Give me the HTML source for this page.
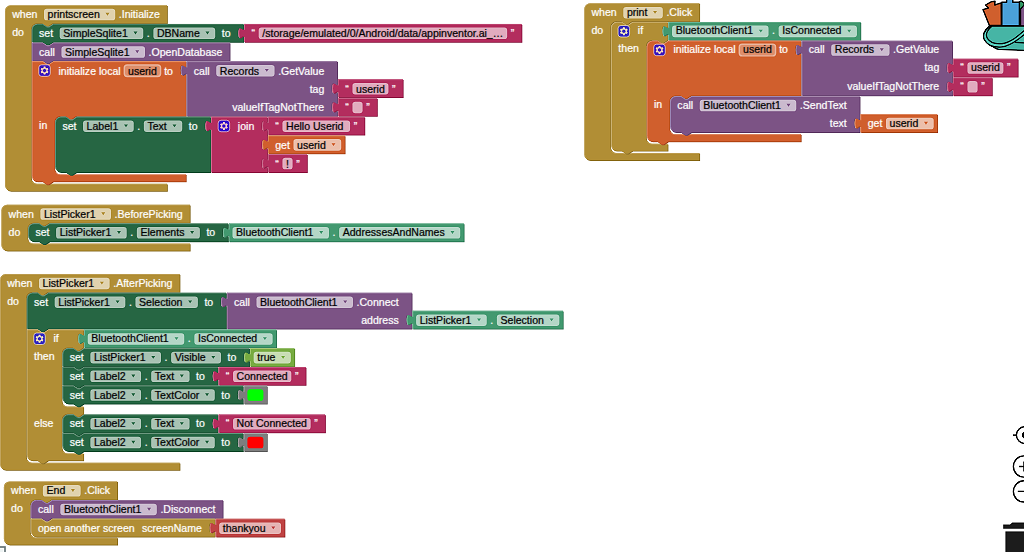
<!DOCTYPE html>
<html lang="en"><head><meta charset="utf-8"><title>Blocks</title>
<style>
html,body{margin:0;padding:0;background:#fff;overflow:hidden}
svg{display:block}
text{font-family:"Liberation Sans",Arial,sans-serif;font-size:14.6667px;fill:#fff;white-space:pre;stroke:#fff;stroke-width:0.3}
text.k{fill:#000;stroke:#000}
rect.e{fill:#fff;fill-opacity:.6}
rect.p{fill:rgb(222,143,108);stroke:rgb(231,175,150);stroke-width:2}
.hl{fill:none;stroke-linecap:round;stroke-width:1}
.ic{fill:#00f;stroke:#fff;stroke-width:1}
</style></head><body>
<svg width="1024" height="552" viewBox="0 0 1024 552">
<defs><filter id="sh" x="0" y="0" width="1024" height="552" filterUnits="userSpaceOnUse" color-interpolation-filters="sRGB"><feConvolveMatrix order="3" kernelMatrix="0 -0.15 0 -0.15 1.6 -0.15 0 -0.15 0" edgeMode="duplicate" preserveAlpha="true"/></filter></defs>
<g filter="url(#sh)">
<rect width="1024" height="552" fill="#fff"/>
<g transform="translate(5,5.2) scale(0.72)">
<g transform="translate(0,0)">
<path d="m 0,8 A 8,8 0 0,1 8,0 H 225.13 v 25 H 66.31 l -6,4 -3,0 -6,-4 h -7 a 8,8 0 0,0 -8,8 v 207 a 8,8 0 0,0 8,8 H 225.13 v 10 H 8 a 8,8 0 0,1 -8,-8 z" fill="#8e722a" transform="translate(1,1)"/>
<path d="m 0,8 A 8,8 0 0,1 8,0 H 225.13 v 25 H 66.31 l -6,4 -3,0 -6,-4 h -7 a 8,8 0 0,0 -8,8 v 207 a 8,8 0 0,0 8,8 H 225.13 v 10 H 8 a 8,8 0 0,1 -8,-8 z" fill="#B18E35"/>
<path class="hl" d="m 0.5,7.5 A 7.5,7.5 0 0,1 8,0.5 H 224.63 M 224.63,0.5 M 224.63,25.5 M 38.3,246.01 a 8.5,8.5 0 0,0 6.01041,2.48959 H 224.63 M 2.7,255.3 A 7.5,7.5 0 0,1 0.5,250 V 8" stroke="#c8b072"/>
<rect class="e" x="54.14" y="5" width="98.93" height="16" rx="4" ry="4"/>
<path d="M139.62,10.6 h5.4 l-2.7,4 z" fill="#B18E35"/>
</g>
<g transform="translate(37.31,26)">
<path d="m 0,8 A 8,8 0 0,1 8,0 H 15 l 6,4 3,0 6,-4 H 293.95 v 5 c 0,10 -8,-8 -8,7.5 s 8,-2.5 8,7.5 v 5 H 29.5 l -6,4 -3,0 -6,-4 H 0 z" fill="#1e5236" transform="translate(1,1)"/>
<path d="m 0,8 A 8,8 0 0,1 8,0 H 15 l 6,4 3,0 6,-4 H 293.95 v 5 c 0,10 -8,-8 -8,7.5 s 8,-2.5 8,7.5 v 5 H 29.5 l -6,4 -3,0 -6,-4 H 0 z" fill="#266643"/>
<path class="hl" d="m 0.5,7.5 A 7.5,7.5 0 0,1 8,0.5 H 15 l 6,4 3,0 6,-4 H 293.45 M 293.45,0.5 M 288.95,19.3 l 3.68,-2.1 M 0.5,24.5 V 8" stroke="#67947b"/>
<rect class="e" x="38.64" y="5" width="116.05" height="16" rx="4" ry="4"/>
<path d="M141.24,10.6 h5.4 l-2.7,4 z" fill="#266643"/>
<rect class="e" x="168.77" y="5" width="85.87" height="16" rx="4" ry="4"/>
<path d="M241.19,10.6 h5.4 l-2.7,4 z" fill="#266643"/>
</g>
<g transform="translate(332.26,26)">
<path d="m 0,0 H 385.28 v 25 H 0 V 20 c 0,-10 -8,8 -8,-7.5 s 8,2.5 8,-7.5 z" fill="#8f244b" transform="translate(1,1)"/>
<path d="m 0,0 H 385.28 v 25 H 0 V 20 c 0,-10 -8,8 -8,-7.5 s 8,2.5 8,-7.5 z" fill="#B32D5E"/>
<path class="hl" d="m 0.5,0.5 H 384.78 M 384.78,0.5 M 0.5,24.5 V 18.5 m -7.36,-0.5 q -1.52,-5.5 0,-11 m 7.36,1 V 0.5 H 1" stroke="#ca6c8e"/>
<rect class="e" x="20.08" y="5" width="345.12" height="16" rx="4" ry="4"/>
</g>
<g transform="translate(37.31,52)">
<path d="m 0,0 H 15 l 6,4 3,0 6,-4 H 274.87 v 25 H 29.5 l -6,4 -3,0 -6,-4 H 0 z" fill="#63426a" transform="translate(1,1)"/>
<path d="m 0,0 H 15 l 6,4 3,0 6,-4 H 274.87 v 25 H 29.5 l -6,4 -3,0 -6,-4 H 0 z" fill="#7C5385"/>
<path class="hl" d="m 0.5,0.5 H 15 l 6,4 3,0 6,-4 H 274.37 M 274.37,0.5 M 0.5,24.5 V 0.5" stroke="#a387aa"/>
<rect class="e" x="41.08" y="5" width="116.05" height="16" rx="4" ry="4"/>
<path d="M143.68,10.6 h5.4 l-2.7,4 z" fill="#7C5385"/>
</g>
<g transform="translate(37.31,78)">
<path d="m 0,0 H 15 l 6,4 3,0 6,-4 H 213.99 v 5 c 0,10 -8,-8 -8,7.5 s 8,-2.5 8,7.5 v 56 H 61.42 l -6,4 -3,0 -6,-4 h -7 a 8,8 0 0,0 -8,8 v 65 a 8,8 0 0,0 8,8 H 213.99 v 10 H 29.5 l -6,4 -3,0 -6,-4 H 8 a 8,8 0 0,1 -8,-8 z" fill="#a64c24" transform="translate(1,1)"/>
<path d="m 0,0 H 15 l 6,4 3,0 6,-4 H 213.99 v 5 c 0,10 -8,-8 -8,7.5 s 8,-2.5 8,7.5 v 56 H 61.42 l -6,4 -3,0 -6,-4 h -7 a 8,8 0 0,0 -8,8 v 65 a 8,8 0 0,0 8,8 H 213.99 v 10 H 29.5 l -6,4 -3,0 -6,-4 H 8 a 8,8 0 0,1 -8,-8 z" fill="#D05F2D"/>
<path class="hl" d="m 0.5,0.5 H 15 l 6,4 3,0 6,-4 H 213.49 M 213.49,0.5 M 208.99,19.3 l 3.68,-2.1 M 213.49,76.5 M 33.41,155.01 a 8.5,8.5 0 0,0 6.01041,2.48959 H 213.49 M 2.7,164.3 A 7.5,7.5 0 0,1 0.5,159 V 0.5" stroke="#de8f6c"/>
<g transform="translate(9.6,4.8)" opacity=".68"><rect class="ic" width="16" height="16" rx="4" ry="4"/><g transform="translate(8,8) scale(1.08) translate(-8,-8)"><path fill="#fff" d="m4.203,7.296 0,1.368 -0.92,0.677 -0.11,0.41 0.9,1.559 0.41,0.11 1.043,-0.457 1.187,0.683 0.127,1.134 0.3,0.3 1.8,0 0.3,-0.299 0.127,-1.138 1.185,-0.682 1.046,0.458 0.409,-0.11 0.9,-1.559 -0.11,-0.41 -0.92,-0.677 0,-1.366 0.92,-0.677 0.11,-0.41 -0.9,-1.559 -0.409,-0.109 -1.046,0.458 -1.185,-0.682 -0.127,-1.138 -0.3,-0.299 -1.8,0 -0.3,0.3 -0.126,1.135 -1.187,0.682 -1.043,-0.457 -0.41,0.11 -0.899,1.559 0.108,0.409z"/><circle class="ic" r="2.7" cx="8" cy="8"/></g></g>
<rect class="p" x="128.41" y="5" width="50.35" height="16" rx="4" ry="4"/>
</g>
<g transform="translate(252.3,78)">
<path d="m 0,0 H 209.21 v 25 v 5 c 0,10 -8,-8 -8,7.5 s 8,-2.5 8,7.5 v 6 v 5 c 0,10 -8,-8 -8,7.5 s 8,-2.5 8,7.5 v 5 H 0 V 20 c 0,-10 -8,8 -8,-7.5 s 8,2.5 8,-7.5 z" fill="#63426a" transform="translate(1,1)"/>
<path d="m 0,0 H 209.21 v 25 v 5 c 0,10 -8,-8 -8,7.5 s 8,-2.5 8,7.5 v 6 v 5 c 0,10 -8,-8 -8,7.5 s 8,-2.5 8,7.5 v 5 H 0 V 20 c 0,-10 -8,8 -8,-7.5 s 8,2.5 8,-7.5 z" fill="#7C5385"/>
<path class="hl" d="m 0.5,0.5 H 208.71 M 208.71,0.5 M 208.71,25.5 M 204.21,44.3 l 3.68,-2.1 M 208.71,51.5 M 204.21,70.3 l 3.68,-2.1 M 0.5,75.5 V 18.5 m -7.36,-0.5 q -1.52,-5.5 0,-11 m 7.36,1 V 0.5 H 1" stroke="#a387aa"/>
<rect class="e" x="41.08" y="5" width="80.99" height="16" rx="4" ry="4"/>
<path d="M108.62,10.6 h5.4 l-2.7,4 z" fill="#7C5385"/>
</g>
<g transform="translate(462.51,103)">
<path d="m 0,0 H 90.12 v 25 H 0 V 20 c 0,-10 -8,8 -8,-7.5 s 8,2.5 8,-7.5 z" fill="#8f244b" transform="translate(1,1)"/>
<path d="m 0,0 H 90.12 v 25 H 0 V 20 c 0,-10 -8,8 -8,-7.5 s 8,2.5 8,-7.5 z" fill="#B32D5E"/>
<path class="hl" d="m 0.5,0.5 H 89.62 M 89.62,0.5 M 0.5,24.5 V 18.5 m -7.36,-0.5 q -1.52,-5.5 0,-11 m 7.36,1 V 0.5 H 1" stroke="#ca6c8e"/>
<rect class="e" x="20.08" y="5" width="49.95" height="16" rx="4" ry="4"/>
</g>
<g transform="translate(462.51,129)">
<path d="m 0,0 H 54.24 v 25 H 0 V 20 c 0,-10 -8,8 -8,-7.5 s 8,2.5 8,-7.5 z" fill="#8f244b" transform="translate(1,1)"/>
<path d="m 0,0 H 54.24 v 25 H 0 V 20 c 0,-10 -8,8 -8,-7.5 s 8,2.5 8,-7.5 z" fill="#B32D5E"/>
<path class="hl" d="m 0.5,0.5 H 53.74 M 53.74,0.5 M 0.5,24.5 V 18.5 m -7.36,-0.5 q -1.52,-5.5 0,-11 m 7.36,1 V 0.5 H 1" stroke="#ca6c8e"/>
<rect class="e" x="20.08" y="5" width="14.07" height="16" rx="4" ry="4"/>
</g>
<g transform="translate(69.73,155)">
<path d="m 0,8 A 8,8 0 0,1 8,0 H 15 l 6,4 3,0 6,-4 H 215.71 v 5 c 0,10 -8,-8 -8,7.5 s 8,-2.5 8,7.5 v 57 H 29.5 l -6,4 -3,0 -6,-4 H 8 a 8,8 0 0,1 -8,-8 z" fill="#1e5236" transform="translate(1,1)"/>
<path d="m 0,8 A 8,8 0 0,1 8,0 H 15 l 6,4 3,0 6,-4 H 215.71 v 5 c 0,10 -8,-8 -8,7.5 s 8,-2.5 8,7.5 v 57 H 29.5 l -6,4 -3,0 -6,-4 H 8 a 8,8 0 0,1 -8,-8 z" fill="#266643"/>
<path class="hl" d="m 0.5,7.5 A 7.5,7.5 0 0,1 8,0.5 H 15 l 6,4 3,0 6,-4 H 215.21 M 215.21,0.5 M 210.71,19.3 l 3.68,-2.1 M 2.7,74.3 A 7.5,7.5 0 0,1 0.5,69 V 8" stroke="#67947b"/>
<rect class="e" x="38.64" y="5" width="70.42" height="16" rx="4" ry="4"/>
<path d="M95.61,10.6 h5.4 l-2.7,4 z" fill="#266643"/>
<rect class="e" x="123.13" y="5" width="53.27" height="16" rx="4" ry="4"/>
<path d="M162.96,10.6 h5.4 l-2.7,4 z" fill="#266643"/>
</g>
<g transform="translate(286.44,155)">
<path d="m 0,0 H 77.83 v 5 c 0,10 -8,-8 -8,7.5 s 8,-2.5 8,7.5 v 6 v 5 c 0,10 -8,-8 -8,7.5 s 8,-2.5 8,7.5 v 6 v 5 c 0,10 -8,-8 -8,7.5 s 8,-2.5 8,7.5 v 5 H 0 V 20 c 0,-10 -8,8 -8,-7.5 s 8,2.5 8,-7.5 z" fill="#8f244b" transform="translate(1,1)"/>
<path d="m 0,0 H 77.83 v 5 c 0,10 -8,-8 -8,7.5 s 8,-2.5 8,7.5 v 6 v 5 c 0,10 -8,-8 -8,7.5 s 8,-2.5 8,7.5 v 6 v 5 c 0,10 -8,-8 -8,7.5 s 8,-2.5 8,7.5 v 5 H 0 V 20 c 0,-10 -8,8 -8,-7.5 s 8,2.5 8,-7.5 z" fill="#B32D5E"/>
<path class="hl" d="m 0.5,0.5 H 77.33 M 77.33,0.5 M 72.83,19.3 l 3.68,-2.1 M 77.33,26.5 M 72.83,45.3 l 3.68,-2.1 M 77.33,52.5 M 72.83,71.3 l 3.68,-2.1 M 0.5,76.5 V 18.5 m -7.36,-0.5 q -1.52,-5.5 0,-11 m 7.36,1 V 0.5 H 1" stroke="#ca6c8e"/>
<g transform="translate(9.6,4.8)" opacity=".68"><rect class="ic" width="16" height="16" rx="4" ry="4"/><g transform="translate(8,8) scale(1.08) translate(-8,-8)"><path fill="#fff" d="m4.203,7.296 0,1.368 -0.92,0.677 -0.11,0.41 0.9,1.559 0.41,0.11 1.043,-0.457 1.187,0.683 0.127,1.134 0.3,0.3 1.8,0 0.3,-0.299 0.127,-1.138 1.185,-0.682 1.046,0.458 0.409,-0.11 0.9,-1.559 -0.11,-0.41 -0.92,-0.677 0,-1.366 0.92,-0.677 0.11,-0.41 -0.9,-1.559 -0.409,-0.109 -1.046,0.458 -1.185,-0.682 -0.127,-1.138 -0.3,-0.299 -1.8,0 -0.3,0.3 -0.126,1.135 -1.187,0.682 -1.043,-0.457 -0.41,0.11 -0.899,1.559 0.108,0.409z"/><circle class="ic" r="2.7" cx="8" cy="8"/></g></g>
</g>
<g transform="translate(365.27,155)">
<path d="m 0,0 H 134.12 v 25 H 0 V 20 c 0,-10 -8,8 -8,-7.5 s 8,2.5 8,-7.5 z" fill="#8f244b" transform="translate(1,1)"/>
<path d="m 0,0 H 134.12 v 25 H 0 V 20 c 0,-10 -8,8 -8,-7.5 s 8,2.5 8,-7.5 z" fill="#B32D5E"/>
<path class="hl" d="m 0.5,0.5 H 133.62 M 133.62,0.5 M 0.5,24.5 V 18.5 m -7.36,-0.5 q -1.52,-5.5 0,-11 m 7.36,1 V 0.5 H 1" stroke="#ca6c8e"/>
<rect class="e" x="20.08" y="5" width="93.95" height="16" rx="4" ry="4"/>
</g>
<g transform="translate(365.27,181)">
<path d="m 0,0 H 106.71 v 25 H 0 V 20 c 0,-10 -8,8 -8,-7.5 s 8,2.5 8,-7.5 z" fill="#a64c24" transform="translate(1,1)"/>
<path d="m 0,0 H 106.71 v 25 H 0 V 20 c 0,-10 -8,8 -8,-7.5 s 8,2.5 8,-7.5 z" fill="#D05F2D"/>
<path class="hl" d="m 0.5,0.5 H 106.21 M 106.21,0.5 M 0.5,24.5 V 18.5 m -7.36,-0.5 q -1.52,-5.5 0,-11 m 7.36,1 V 0.5 H 1" stroke="#de8f6c"/>
<rect class="e" x="35.39" y="5" width="66.32" height="16" rx="4" ry="4"/>
<path d="M88.26,10.6 h5.4 l-2.7,4 z" fill="#D05F2D"/>
</g>
<g transform="translate(365.27,207)">
<path d="m 0,0 H 54.24 v 25 H 0 V 20 c 0,-10 -8,8 -8,-7.5 s 8,2.5 8,-7.5 z" fill="#8f244b" transform="translate(1,1)"/>
<path d="m 0,0 H 54.24 v 25 H 0 V 20 c 0,-10 -8,8 -8,-7.5 s 8,2.5 8,-7.5 z" fill="#B32D5E"/>
<path class="hl" d="m 0.5,0.5 H 53.74 M 53.74,0.5 M 0.5,24.5 V 18.5 m -7.36,-0.5 q -1.52,-5.5 0,-11 m 7.36,1 V 0.5 H 1" stroke="#ca6c8e"/>
<rect class="e" x="20.08" y="5" width="14.07" height="16" rx="4" ry="4"/>
</g>
</g>
<g transform="translate(1.4,204.7) scale(0.72)">
<g transform="translate(0,0)">
<path d="m 0,8 A 8,8 0 0,1 8,0 H 261.81 v 25 H 66.31 l -6,4 -3,0 -6,-4 h -7 a 8,8 0 0,0 -8,8 v 13 a 8,8 0 0,0 8,8 H 261.81 v 10 H 8 a 8,8 0 0,1 -8,-8 z" fill="#8e722a" transform="translate(1,1)"/>
<path d="m 0,8 A 8,8 0 0,1 8,0 H 261.81 v 25 H 66.31 l -6,4 -3,0 -6,-4 h -7 a 8,8 0 0,0 -8,8 v 13 a 8,8 0 0,0 8,8 H 261.81 v 10 H 8 a 8,8 0 0,1 -8,-8 z" fill="#B18E35"/>
<path class="hl" d="m 0.5,7.5 A 7.5,7.5 0 0,1 8,0.5 H 261.31 M 261.31,0.5 M 261.31,25.5 M 38.3,52.01 a 8.5,8.5 0 0,0 6.01041,2.48959 H 261.31 M 2.7,61.3 A 7.5,7.5 0 0,1 0.5,56 V 8" stroke="#c8b072"/>
<rect class="e" x="54.14" y="5" width="98.1" height="16" rx="4" ry="4"/>
<path d="M138.79,10.6 h5.4 l-2.7,4 z" fill="#B18E35"/>
</g>
<g transform="translate(37.31,26)">
<path d="m 0,8 A 8,8 0 0,1 8,0 H 15 l 6,4 3,0 6,-4 H 277.64 v 5 c 0,10 -8,-8 -8,7.5 s 8,-2.5 8,7.5 v 5 H 29.5 l -6,4 -3,0 -6,-4 H 8 a 8,8 0 0,1 -8,-8 z" fill="#1e5236" transform="translate(1,1)"/>
<path d="m 0,8 A 8,8 0 0,1 8,0 H 15 l 6,4 3,0 6,-4 H 277.64 v 5 c 0,10 -8,-8 -8,7.5 s 8,-2.5 8,7.5 v 5 H 29.5 l -6,4 -3,0 -6,-4 H 8 a 8,8 0 0,1 -8,-8 z" fill="#266643"/>
<path class="hl" d="m 0.5,7.5 A 7.5,7.5 0 0,1 8,0.5 H 15 l 6,4 3,0 6,-4 H 277.14 M 277.14,0.5 M 272.64,19.3 l 3.68,-2.1 M 2.7,22.3 A 7.5,7.5 0 0,1 0.5,17 V 8" stroke="#67947b"/>
<rect class="e" x="38.64" y="5" width="98.1" height="16" rx="4" ry="4"/>
<path d="M123.29,10.6 h5.4 l-2.7,4 z" fill="#266643"/>
<rect class="e" x="150.82" y="5" width="87.51" height="16" rx="4" ry="4"/>
<path d="M224.88,10.6 h5.4 l-2.7,4 z" fill="#266643"/>
</g>
<g transform="translate(315.95,26)">
<path d="m 0,0 H 326.3 v 25 H 0 V 20 c 0,-10 -8,8 -8,-7.5 s 8,2.5 8,-7.5 z" fill="#367a5a" transform="translate(1,1)"/>
<path d="m 0,0 H 326.3 v 25 H 0 V 20 c 0,-10 -8,8 -8,-7.5 s 8,2.5 8,-7.5 z" fill="#439970"/>
<path class="hl" d="m 0.5,0.5 H 325.8 M 325.8,0.5 M 0.5,24.5 V 18.5 m -7.36,-0.5 q -1.52,-5.5 0,-11 m 7.36,1 V 0.5 H 1" stroke="#7bb89b"/>
<rect class="e" x="5" y="5" width="134.01" height="16" rx="4" ry="4"/>
<path d="M125.56,10.6 h5.4 l-2.7,4 z" fill="#439970"/>
<rect class="e" x="153.08" y="5" width="168.22" height="16" rx="4" ry="4"/>
<path d="M307.85,10.6 h5.4 l-2.7,4 z" fill="#439970"/>
</g>
</g>
<g transform="translate(0,274.1) scale(0.72)">
<g transform="translate(0,0)">
<path d="m 0,8 A 8,8 0 0,1 8,0 H 249.57 v 25 H 66.31 l -6,4 -3,0 -6,-4 h -7 a 8,8 0 0,0 -8,8 v 221 a 8,8 0 0,0 8,8 H 249.57 v 10 H 8 a 8,8 0 0,1 -8,-8 z" fill="#8e722a" transform="translate(1,1)"/>
<path d="m 0,8 A 8,8 0 0,1 8,0 H 249.57 v 25 H 66.31 l -6,4 -3,0 -6,-4 h -7 a 8,8 0 0,0 -8,8 v 221 a 8,8 0 0,0 8,8 H 249.57 v 10 H 8 a 8,8 0 0,1 -8,-8 z" fill="#B18E35"/>
<path class="hl" d="m 0.5,7.5 A 7.5,7.5 0 0,1 8,0.5 H 249.07 M 249.07,0.5 M 249.07,25.5 M 38.3,260.01 a 8.5,8.5 0 0,0 6.01041,2.48959 H 249.07 M 2.7,269.3 A 7.5,7.5 0 0,1 0.5,264 V 8" stroke="#c8b072"/>
<rect class="e" x="54.14" y="5" width="98.1" height="16" rx="4" ry="4"/>
<path d="M138.79,10.6 h5.4 l-2.7,4 z" fill="#B18E35"/>
</g>
<g transform="translate(37.31,26)">
<path d="m 0,8 A 8,8 0 0,1 8,0 H 15 l 6,4 3,0 6,-4 H 276.84 v 5 c 0,10 -8,-8 -8,7.5 s 8,-2.5 8,7.5 v 30 H 29.5 l -6,4 -3,0 -6,-4 H 0 z" fill="#1e5236" transform="translate(1,1)"/>
<path d="m 0,8 A 8,8 0 0,1 8,0 H 15 l 6,4 3,0 6,-4 H 276.84 v 5 c 0,10 -8,-8 -8,7.5 s 8,-2.5 8,7.5 v 30 H 29.5 l -6,4 -3,0 -6,-4 H 0 z" fill="#266643"/>
<path class="hl" d="m 0.5,7.5 A 7.5,7.5 0 0,1 8,0.5 H 15 l 6,4 3,0 6,-4 H 276.34 M 276.34,0.5 M 271.84,19.3 l 3.68,-2.1 M 0.5,49.5 V 8" stroke="#67947b"/>
<rect class="e" x="38.64" y="5" width="98.1" height="16" rx="4" ry="4"/>
<path d="M123.29,10.6 h5.4 l-2.7,4 z" fill="#266643"/>
<rect class="e" x="150.82" y="5" width="86.71" height="16" rx="4" ry="4"/>
<path d="M224.08,10.6 h5.4 l-2.7,4 z" fill="#266643"/>
</g>
<g transform="translate(315.15,26)">
<path d="m 0,0 H 256.79 v 25 v 5 c 0,10 -8,-8 -8,7.5 s 8,-2.5 8,7.5 v 5 H 0 V 20 c 0,-10 -8,8 -8,-7.5 s 8,2.5 8,-7.5 z" fill="#63426a" transform="translate(1,1)"/>
<path d="m 0,0 H 256.79 v 25 v 5 c 0,10 -8,-8 -8,7.5 s 8,-2.5 8,7.5 v 5 H 0 V 20 c 0,-10 -8,8 -8,-7.5 s 8,2.5 8,-7.5 z" fill="#7C5385"/>
<path class="hl" d="m 0.5,0.5 H 256.29 M 256.29,0.5 M 256.29,25.5 M 251.79,44.3 l 3.68,-2.1 M 0.5,49.5 V 18.5 m -7.36,-0.5 q -1.52,-5.5 0,-11 m 7.36,1 V 0.5 H 1" stroke="#a387aa"/>
<rect class="e" x="41.08" y="5" width="134.01" height="16" rx="4" ry="4"/>
<path d="M161.64,10.6 h5.4 l-2.7,4 z" fill="#7C5385"/>
</g>
<g transform="translate(572.94,51)">
<path d="m 0,0 H 208.89 v 25 H 0 V 20 c 0,-10 -8,8 -8,-7.5 s 8,2.5 8,-7.5 z" fill="#367a5a" transform="translate(1,1)"/>
<path d="m 0,0 H 208.89 v 25 H 0 V 20 c 0,-10 -8,8 -8,-7.5 s 8,2.5 8,-7.5 z" fill="#439970"/>
<path class="hl" d="m 0.5,0.5 H 208.39 M 208.39,0.5 M 0.5,24.5 V 18.5 m -7.36,-0.5 q -1.52,-5.5 0,-11 m 7.36,1 V 0.5 H 1" stroke="#7bb89b"/>
<rect class="e" x="5" y="5" width="98.1" height="16" rx="4" ry="4"/>
<path d="M89.65,10.6 h5.4 l-2.7,4 z" fill="#439970"/>
<rect class="e" x="117.18" y="5" width="86.71" height="16" rx="4" ry="4"/>
<path d="M190.44,10.6 h5.4 l-2.7,4 z" fill="#439970"/>
</g>
<g transform="translate(37.31,77)">
<path d="m 0,0 H 15 l 6,4 3,0 6,-4 H 78.55 v 5 c 0,10 -8,-8 -8,7.5 s 8,-2.5 8,7.5 v 5 H 78.55 l -6,4 -3,0 -6,-4 h -7 a 8,8 0 0,0 -8,8 v 66 a 8,8 0 0,0 8,8 H 78.55 v 10 H 78.55 l -6,4 -3,0 -6,-4 h -7 a 8,8 0 0,0 -8,8 v 39 a 8,8 0 0,0 8,8 H 78.55 v 10 H 29.5 l -6,4 -3,0 -6,-4 H 8 a 8,8 0 0,1 -8,-8 z" fill="#8e722a" transform="translate(1,1)"/>
<path d="m 0,0 H 15 l 6,4 3,0 6,-4 H 78.55 v 5 c 0,10 -8,-8 -8,7.5 s 8,-2.5 8,7.5 v 5 H 78.55 l -6,4 -3,0 -6,-4 h -7 a 8,8 0 0,0 -8,8 v 66 a 8,8 0 0,0 8,8 H 78.55 v 10 H 78.55 l -6,4 -3,0 -6,-4 h -7 a 8,8 0 0,0 -8,8 v 39 a 8,8 0 0,0 8,8 H 78.55 v 10 H 29.5 l -6,4 -3,0 -6,-4 H 8 a 8,8 0 0,1 -8,-8 z" fill="#B18E35"/>
<path class="hl" d="m 0.5,0.5 H 15 l 6,4 3,0 6,-4 H 78.05 M 78.05,0.5 M 73.55,19.3 l 3.68,-2.1 M 78.05,25.5 M 50.54,105.01 a 8.5,8.5 0 0,0 6.01041,2.48959 H 78.05 M 78.05,117.5 M 50.54,170.01 a 8.5,8.5 0 0,0 6.01041,2.48959 H 78.05 M 2.7,179.3 A 7.5,7.5 0 0,1 0.5,174 V 0.5" stroke="#c8b072"/>
<g transform="translate(9.6,4.8)" opacity=".68"><rect class="ic" width="16" height="16" rx="4" ry="4"/><g transform="translate(8,8) scale(1.08) translate(-8,-8)"><path fill="#fff" d="m4.203,7.296 0,1.368 -0.92,0.677 -0.11,0.41 0.9,1.559 0.41,0.11 1.043,-0.457 1.187,0.683 0.127,1.134 0.3,0.3 1.8,0 0.3,-0.299 0.127,-1.138 1.185,-0.682 1.046,0.458 0.409,-0.11 0.9,-1.559 -0.11,-0.41 -0.92,-0.677 0,-1.366 0.92,-0.677 0.11,-0.41 -0.9,-1.559 -0.409,-0.109 -1.046,0.458 -1.185,-0.682 -0.127,-1.138 -0.3,-0.299 -1.8,0 -0.3,0.3 -0.126,1.135 -1.187,0.682 -1.043,-0.457 -0.41,0.11 -0.899,1.559 0.108,0.409z"/><circle class="ic" r="2.7" cx="8" cy="8"/></g></g>
</g>
<g transform="translate(116.86,77)">
<path d="m 0,0 H 266.8 v 25 H 0 V 20 c 0,-10 -8,8 -8,-7.5 s 8,2.5 8,-7.5 z" fill="#367a5a" transform="translate(1,1)"/>
<path d="m 0,0 H 266.8 v 25 H 0 V 20 c 0,-10 -8,8 -8,-7.5 s 8,2.5 8,-7.5 z" fill="#439970"/>
<path class="hl" d="m 0.5,0.5 H 266.3 M 266.3,0.5 M 0.5,24.5 V 18.5 m -7.36,-0.5 q -1.52,-5.5 0,-11 m 7.36,1 V 0.5 H 1" stroke="#7bb89b"/>
<rect class="e" x="5" y="5" width="134.01" height="16" rx="4" ry="4"/>
<path d="M125.56,10.6 h5.4 l-2.7,4 z" fill="#439970"/>
<rect class="e" x="153.08" y="5" width="108.72" height="16" rx="4" ry="4"/>
<path d="M248.35,10.6 h5.4 l-2.7,4 z" fill="#439970"/>
</g>
<g transform="translate(86.86,103)">
<path d="m 0,8 A 8,8 0 0,1 8,0 H 15 l 6,4 3,0 6,-4 H 259.44 v 5 c 0,10 -8,-8 -8,7.5 s 8,-2.5 8,7.5 v 5 H 29.5 l -6,4 -3,0 -6,-4 H 0 z" fill="#1e5236" transform="translate(1,1)"/>
<path d="m 0,8 A 8,8 0 0,1 8,0 H 15 l 6,4 3,0 6,-4 H 259.44 v 5 c 0,10 -8,-8 -8,7.5 s 8,-2.5 8,7.5 v 5 H 29.5 l -6,4 -3,0 -6,-4 H 0 z" fill="#266643"/>
<path class="hl" d="m 0.5,7.5 A 7.5,7.5 0 0,1 8,0.5 H 15 l 6,4 3,0 6,-4 H 258.94 M 258.94,0.5 M 254.44,19.3 l 3.68,-2.1 M 0.5,24.5 V 8" stroke="#67947b"/>
<rect class="e" x="38.64" y="5" width="98.1" height="16" rx="4" ry="4"/>
<path d="M123.29,10.6 h5.4 l-2.7,4 z" fill="#266643"/>
<rect class="e" x="150.82" y="5" width="69.32" height="16" rx="4" ry="4"/>
<path d="M206.68,10.6 h5.4 l-2.7,4 z" fill="#266643"/>
</g>
<g transform="translate(347.3,103)">
<path d="m 0,0 H 61.65 v 25 H 0 V 20 c 0,-10 -8,8 -8,-7.5 s 8,2.5 8,-7.5 z" fill="#5f8934" transform="translate(1,1)"/>
<path d="m 0,0 H 61.65 v 25 H 0 V 20 c 0,-10 -8,8 -8,-7.5 s 8,2.5 8,-7.5 z" fill="#77AB41"/>
<path class="hl" d="m 0.5,0.5 H 61.15 M 61.15,0.5 M 0.5,24.5 V 18.5 m -7.36,-0.5 q -1.52,-5.5 0,-11 m 7.36,1 V 0.5 H 1" stroke="#a0c47a"/>
<rect class="e" x="5" y="5" width="51.65" height="16" rx="4" ry="4"/>
<path d="M43.2,10.6 h5.4 l-2.7,4 z" fill="#77AB41"/>
</g>
<g transform="translate(86.86,129)">
<path d="m 0,0 H 15 l 6,4 3,0 6,-4 H 215.71 v 5 c 0,10 -8,-8 -8,7.5 s 8,-2.5 8,7.5 v 5 H 29.5 l -6,4 -3,0 -6,-4 H 0 z" fill="#1e5236" transform="translate(1,1)"/>
<path d="m 0,0 H 15 l 6,4 3,0 6,-4 H 215.71 v 5 c 0,10 -8,-8 -8,7.5 s 8,-2.5 8,7.5 v 5 H 29.5 l -6,4 -3,0 -6,-4 H 0 z" fill="#266643"/>
<path class="hl" d="m 0.5,0.5 H 15 l 6,4 3,0 6,-4 H 215.21 M 215.21,0.5 M 210.71,19.3 l 3.68,-2.1 M 0.5,24.5 V 0.5" stroke="#67947b"/>
<rect class="e" x="38.64" y="5" width="70.42" height="16" rx="4" ry="4"/>
<path d="M95.61,10.6 h5.4 l-2.7,4 z" fill="#266643"/>
<rect class="e" x="123.13" y="5" width="53.27" height="16" rx="4" ry="4"/>
<path d="M162.96,10.6 h5.4 l-2.7,4 z" fill="#266643"/>
</g>
<g transform="translate(303.57,129)">
<path d="m 0,0 H 121.11 v 25 H 0 V 20 c 0,-10 -8,8 -8,-7.5 s 8,2.5 8,-7.5 z" fill="#8f244b" transform="translate(1,1)"/>
<path d="m 0,0 H 121.11 v 25 H 0 V 20 c 0,-10 -8,8 -8,-7.5 s 8,2.5 8,-7.5 z" fill="#B32D5E"/>
<path class="hl" d="m 0.5,0.5 H 120.61 M 120.61,0.5 M 0.5,24.5 V 18.5 m -7.36,-0.5 q -1.52,-5.5 0,-11 m 7.36,1 V 0.5 H 1" stroke="#ca6c8e"/>
<rect class="e" x="20.08" y="5" width="80.94" height="16" rx="4" ry="4"/>
</g>
<g transform="translate(86.86,155)">
<path d="m 0,0 H 15 l 6,4 3,0 6,-4 H 250.76 v 5 c 0,10 -8,-8 -8,7.5 s 8,-2.5 8,7.5 v 5 H 29.5 l -6,4 -3,0 -6,-4 H 8 a 8,8 0 0,1 -8,-8 z" fill="#1e5236" transform="translate(1,1)"/>
<path d="m 0,0 H 15 l 6,4 3,0 6,-4 H 250.76 v 5 c 0,10 -8,-8 -8,7.5 s 8,-2.5 8,7.5 v 5 H 29.5 l -6,4 -3,0 -6,-4 H 8 a 8,8 0 0,1 -8,-8 z" fill="#266643"/>
<path class="hl" d="m 0.5,0.5 H 15 l 6,4 3,0 6,-4 H 250.26 M 250.26,0.5 M 245.76,19.3 l 3.68,-2.1 M 2.7,22.3 A 7.5,7.5 0 0,1 0.5,17 V 0.5" stroke="#67947b"/>
<rect class="e" x="38.64" y="5" width="70.42" height="16" rx="4" ry="4"/>
<path d="M95.61,10.6 h5.4 l-2.7,4 z" fill="#266643"/>
<rect class="e" x="123.13" y="5" width="88.32" height="16" rx="4" ry="4"/>
<path d="M198,10.6 h5.4 l-2.7,4 z" fill="#266643"/>
</g>
<g transform="translate(338.62,155)">
<path d="m 0,0 H 32.22 v 25 H 0 V 20 c 0,-10 -8,8 -8,-7.5 s 8,2.5 8,-7.5 z" fill="#646464" transform="translate(1,1)"/>
<path d="m 0,0 H 32.22 v 25 H 0 V 20 c 0,-10 -8,8 -8,-7.5 s 8,2.5 8,-7.5 z" fill="#7D7D7D"/>
<path class="hl" d="m 0.5,0.5 H 31.72 M 31.72,0.5 M 0.5,24.5 V 18.5 m -7.36,-0.5 q -1.52,-5.5 0,-11 m 7.36,1 V 0.5 H 1" stroke="#a4a4a4"/>
<rect x="5" y="5" width="22.22" height="16" rx="4" ry="4" fill="#00ff00"/>
</g>
<g transform="translate(86.86,195)">
<path d="m 0,8 A 8,8 0 0,1 8,0 H 15 l 6,4 3,0 6,-4 H 215.71 v 5 c 0,10 -8,-8 -8,7.5 s 8,-2.5 8,7.5 v 5 H 29.5 l -6,4 -3,0 -6,-4 H 0 z" fill="#1e5236" transform="translate(1,1)"/>
<path d="m 0,8 A 8,8 0 0,1 8,0 H 15 l 6,4 3,0 6,-4 H 215.71 v 5 c 0,10 -8,-8 -8,7.5 s 8,-2.5 8,7.5 v 5 H 29.5 l -6,4 -3,0 -6,-4 H 0 z" fill="#266643"/>
<path class="hl" d="m 0.5,7.5 A 7.5,7.5 0 0,1 8,0.5 H 15 l 6,4 3,0 6,-4 H 215.21 M 215.21,0.5 M 210.71,19.3 l 3.68,-2.1 M 0.5,24.5 V 8" stroke="#67947b"/>
<rect class="e" x="38.64" y="5" width="70.42" height="16" rx="4" ry="4"/>
<path d="M95.61,10.6 h5.4 l-2.7,4 z" fill="#266643"/>
<rect class="e" x="123.13" y="5" width="53.27" height="16" rx="4" ry="4"/>
<path d="M162.96,10.6 h5.4 l-2.7,4 z" fill="#266643"/>
</g>
<g transform="translate(303.57,195)">
<path d="m 0,0 H 148.01 v 25 H 0 V 20 c 0,-10 -8,8 -8,-7.5 s 8,2.5 8,-7.5 z" fill="#8f244b" transform="translate(1,1)"/>
<path d="m 0,0 H 148.01 v 25 H 0 V 20 c 0,-10 -8,8 -8,-7.5 s 8,2.5 8,-7.5 z" fill="#B32D5E"/>
<path class="hl" d="m 0.5,0.5 H 147.51 M 147.51,0.5 M 0.5,24.5 V 18.5 m -7.36,-0.5 q -1.52,-5.5 0,-11 m 7.36,1 V 0.5 H 1" stroke="#ca6c8e"/>
<rect class="e" x="20.08" y="5" width="107.84" height="16" rx="4" ry="4"/>
</g>
<g transform="translate(86.86,221)">
<path d="m 0,0 H 15 l 6,4 3,0 6,-4 H 250.76 v 5 c 0,10 -8,-8 -8,7.5 s 8,-2.5 8,7.5 v 5 H 29.5 l -6,4 -3,0 -6,-4 H 8 a 8,8 0 0,1 -8,-8 z" fill="#1e5236" transform="translate(1,1)"/>
<path d="m 0,0 H 15 l 6,4 3,0 6,-4 H 250.76 v 5 c 0,10 -8,-8 -8,7.5 s 8,-2.5 8,7.5 v 5 H 29.5 l -6,4 -3,0 -6,-4 H 8 a 8,8 0 0,1 -8,-8 z" fill="#266643"/>
<path class="hl" d="m 0.5,0.5 H 15 l 6,4 3,0 6,-4 H 250.26 M 250.26,0.5 M 245.76,19.3 l 3.68,-2.1 M 2.7,22.3 A 7.5,7.5 0 0,1 0.5,17 V 0.5" stroke="#67947b"/>
<rect class="e" x="38.64" y="5" width="70.42" height="16" rx="4" ry="4"/>
<path d="M95.61,10.6 h5.4 l-2.7,4 z" fill="#266643"/>
<rect class="e" x="123.13" y="5" width="88.32" height="16" rx="4" ry="4"/>
<path d="M198,10.6 h5.4 l-2.7,4 z" fill="#266643"/>
</g>
<g transform="translate(338.62,221)">
<path d="m 0,0 H 32.22 v 25 H 0 V 20 c 0,-10 -8,8 -8,-7.5 s 8,2.5 8,-7.5 z" fill="#646464" transform="translate(1,1)"/>
<path d="m 0,0 H 32.22 v 25 H 0 V 20 c 0,-10 -8,8 -8,-7.5 s 8,2.5 8,-7.5 z" fill="#7D7D7D"/>
<path class="hl" d="m 0.5,0.5 H 31.72 M 31.72,0.5 M 0.5,24.5 V 18.5 m -7.36,-0.5 q -1.52,-5.5 0,-11 m 7.36,1 V 0.5 H 1" stroke="#a4a4a4"/>
<rect x="5" y="5" width="22.22" height="16" rx="4" ry="4" fill="#ff0000"/>
</g>
</g>
<g transform="translate(3.9,481.4) scale(0.72)">
<g transform="translate(0,0)">
<path d="m 0,8 A 8,8 0 0,1 8,0 H 157.46 v 25 H 66.31 l -6,4 -3,0 -6,-4 h -7 a 8,8 0 0,0 -8,8 v 37 a 8,8 0 0,0 8,8 H 157.46 v 10 H 8 a 8,8 0 0,1 -8,-8 z" fill="#8e722a" transform="translate(1,1)"/>
<path d="m 0,8 A 8,8 0 0,1 8,0 H 157.46 v 25 H 66.31 l -6,4 -3,0 -6,-4 h -7 a 8,8 0 0,0 -8,8 v 37 a 8,8 0 0,0 8,8 H 157.46 v 10 H 8 a 8,8 0 0,1 -8,-8 z" fill="#B18E35"/>
<path class="hl" d="m 0.5,7.5 A 7.5,7.5 0 0,1 8,0.5 H 156.96 M 156.96,0.5 M 156.96,25.5 M 38.3,76.01 a 8.5,8.5 0 0,0 6.01041,2.48959 H 156.96 M 2.7,85.3 A 7.5,7.5 0 0,1 0.5,80 V 8" stroke="#c8b072"/>
<rect class="e" x="54.14" y="5" width="52.47" height="16" rx="4" ry="4"/>
<path d="M93.16,10.6 h5.4 l-2.7,4 z" fill="#B18E35"/>
</g>
<g transform="translate(37.31,26)">
<path d="m 0,8 A 8,8 0 0,1 8,0 H 15 l 6,4 3,0 6,-4 H 266.72 v 25 H 29.5 l -6,4 -3,0 -6,-4 H 0 z" fill="#63426a" transform="translate(1,1)"/>
<path d="m 0,8 A 8,8 0 0,1 8,0 H 15 l 6,4 3,0 6,-4 H 266.72 v 25 H 29.5 l -6,4 -3,0 -6,-4 H 0 z" fill="#7C5385"/>
<path class="hl" d="m 0.5,7.5 A 7.5,7.5 0 0,1 8,0.5 H 15 l 6,4 3,0 6,-4 H 266.22 M 266.22,0.5 M 0.5,24.5 V 8" stroke="#a387aa"/>
<rect class="e" x="41.08" y="5" width="134.01" height="16" rx="4" ry="4"/>
<path d="M161.64,10.6 h5.4 l-2.7,4 z" fill="#7C5385"/>
</g>
<g transform="translate(37.31,52)">
<path d="m 0,0 H 15 l 6,4 3,0 6,-4 H 255.69 v 5 c 0,10 -8,-8 -8,7.5 s 8,-2.5 8,7.5 v 5 H 8 a 8,8 0 0,1 -8,-8 z" fill="#8e722a" transform="translate(1,1)"/>
<path d="m 0,0 H 15 l 6,4 3,0 6,-4 H 255.69 v 5 c 0,10 -8,-8 -8,7.5 s 8,-2.5 8,7.5 v 5 H 8 a 8,8 0 0,1 -8,-8 z" fill="#B18E35"/>
<path class="hl" d="m 0.5,0.5 H 15 l 6,4 3,0 6,-4 H 255.19 M 255.19,0.5 M 250.69,19.3 l 3.68,-2.1 M 2.7,22.3 A 7.5,7.5 0 0,1 0.5,17 V 0.5" stroke="#c8b072"/>
</g>
<g transform="translate(294,52)">
<path d="m 0,0 H 95.9 v 25 H 0 V 20 c 0,-10 -8,8 -8,-7.5 s 8,2.5 8,-7.5 z" fill="#993636" transform="translate(1,1)"/>
<path d="m 0,0 H 95.9 v 25 H 0 V 20 c 0,-10 -8,8 -8,-7.5 s 8,2.5 8,-7.5 z" fill="#BF4343"/>
<path class="hl" d="m 0.5,0.5 H 95.4 M 95.4,0.5 M 0.5,24.5 V 18.5 m -7.36,-0.5 q -1.52,-5.5 0,-11 m 7.36,1 V 0.5 H 1" stroke="#d27b7b"/>
<rect class="e" x="5" y="5" width="85.9" height="16" rx="4" ry="4"/>
<path d="M77.45,10.6 h5.4 l-2.7,4 z" fill="#BF4343"/>
</g>
</g>
<g transform="translate(584.3,3.3) scale(0.72)">
<g transform="translate(0,0)">
<path d="m 0,8 A 8,8 0 0,1 8,0 H 159.89 v 25 H 66.31 l -6,4 -3,0 -6,-4 h -7 a 8,8 0 0,0 -8,8 v 167 a 8,8 0 0,0 8,8 H 159.89 v 10 H 8 a 8,8 0 0,1 -8,-8 z" fill="#8e722a" transform="translate(1,1)"/>
<path d="m 0,8 A 8,8 0 0,1 8,0 H 159.89 v 25 H 66.31 l -6,4 -3,0 -6,-4 h -7 a 8,8 0 0,0 -8,8 v 167 a 8,8 0 0,0 8,8 H 159.89 v 10 H 8 a 8,8 0 0,1 -8,-8 z" fill="#B18E35"/>
<path class="hl" d="m 0.5,7.5 A 7.5,7.5 0 0,1 8,0.5 H 159.39 M 159.39,0.5 M 159.39,25.5 M 38.3,206.01 a 8.5,8.5 0 0,0 6.01041,2.48959 H 159.39 M 2.7,215.3 A 7.5,7.5 0 0,1 0.5,210 V 8" stroke="#c8b072"/>
<rect class="e" x="54.14" y="5" width="54.91" height="16" rx="4" ry="4"/>
<path d="M95.59,10.6 h5.4 l-2.7,4 z" fill="#B18E35"/>
</g>
<g transform="translate(37.31,26)">
<path d="m 0,8 A 8,8 0 0,1 8,0 H 15 l 6,4 3,0 6,-4 H 78.55 v 5 c 0,10 -8,-8 -8,7.5 s 8,-2.5 8,7.5 v 5 H 78.55 l -6,4 -3,0 -6,-4 h -7 a 8,8 0 0,0 -8,8 v 128 a 8,8 0 0,0 8,8 H 78.55 v 10 H 29.5 l -6,4 -3,0 -6,-4 H 8 a 8,8 0 0,1 -8,-8 z" fill="#8e722a" transform="translate(1,1)"/>
<path d="m 0,8 A 8,8 0 0,1 8,0 H 15 l 6,4 3,0 6,-4 H 78.55 v 5 c 0,10 -8,-8 -8,7.5 s 8,-2.5 8,7.5 v 5 H 78.55 l -6,4 -3,0 -6,-4 h -7 a 8,8 0 0,0 -8,8 v 128 a 8,8 0 0,0 8,8 H 78.55 v 10 H 29.5 l -6,4 -3,0 -6,-4 H 8 a 8,8 0 0,1 -8,-8 z" fill="#B18E35"/>
<path class="hl" d="m 0.5,7.5 A 7.5,7.5 0 0,1 8,0.5 H 15 l 6,4 3,0 6,-4 H 78.05 M 78.05,0.5 M 73.55,19.3 l 3.68,-2.1 M 78.05,25.5 M 50.54,167.01 a 8.5,8.5 0 0,0 6.01041,2.48959 H 78.05 M 2.7,176.3 A 7.5,7.5 0 0,1 0.5,171 V 8" stroke="#c8b072"/>
<g transform="translate(9.6,4.8)" opacity=".68"><rect class="ic" width="16" height="16" rx="4" ry="4"/><g transform="translate(8,8) scale(1.08) translate(-8,-8)"><path fill="#fff" d="m4.203,7.296 0,1.368 -0.92,0.677 -0.11,0.41 0.9,1.559 0.41,0.11 1.043,-0.457 1.187,0.683 0.127,1.134 0.3,0.3 1.8,0 0.3,-0.299 0.127,-1.138 1.185,-0.682 1.046,0.458 0.409,-0.11 0.9,-1.559 -0.11,-0.41 -0.92,-0.677 0,-1.366 0.92,-0.677 0.11,-0.41 -0.9,-1.559 -0.409,-0.109 -1.046,0.458 -1.185,-0.682 -0.127,-1.138 -0.3,-0.299 -1.8,0 -0.3,0.3 -0.126,1.135 -1.187,0.682 -1.043,-0.457 -0.41,0.11 -0.899,1.559 0.108,0.409z"/><circle class="ic" r="2.7" cx="8" cy="8"/></g></g>
</g>
<g transform="translate(116.86,26)">
<path d="m 0,0 H 266.8 v 25 H 0 V 20 c 0,-10 -8,8 -8,-7.5 s 8,2.5 8,-7.5 z" fill="#367a5a" transform="translate(1,1)"/>
<path d="m 0,0 H 266.8 v 25 H 0 V 20 c 0,-10 -8,8 -8,-7.5 s 8,2.5 8,-7.5 z" fill="#439970"/>
<path class="hl" d="m 0.5,0.5 H 266.3 M 266.3,0.5 M 0.5,24.5 V 18.5 m -7.36,-0.5 q -1.52,-5.5 0,-11 m 7.36,1 V 0.5 H 1" stroke="#7bb89b"/>
<rect class="e" x="5" y="5" width="134.01" height="16" rx="4" ry="4"/>
<path d="M125.56,10.6 h5.4 l-2.7,4 z" fill="#439970"/>
<rect class="e" x="153.08" y="5" width="108.72" height="16" rx="4" ry="4"/>
<path d="M248.35,10.6 h5.4 l-2.7,4 z" fill="#439970"/>
</g>
<g transform="translate(86.86,52)">
<path d="m 0,8 A 8,8 0 0,1 8,0 H 15 l 6,4 3,0 6,-4 H 213.99 v 5 c 0,10 -8,-8 -8,7.5 s 8,-2.5 8,7.5 v 56 H 61.42 l -6,4 -3,0 -6,-4 h -7 a 8,8 0 0,0 -8,8 v 38 a 8,8 0 0,0 8,8 H 213.99 v 10 H 29.5 l -6,4 -3,0 -6,-4 H 8 a 8,8 0 0,1 -8,-8 z" fill="#a64c24" transform="translate(1,1)"/>
<path d="m 0,8 A 8,8 0 0,1 8,0 H 15 l 6,4 3,0 6,-4 H 213.99 v 5 c 0,10 -8,-8 -8,7.5 s 8,-2.5 8,7.5 v 56 H 61.42 l -6,4 -3,0 -6,-4 h -7 a 8,8 0 0,0 -8,8 v 38 a 8,8 0 0,0 8,8 H 213.99 v 10 H 29.5 l -6,4 -3,0 -6,-4 H 8 a 8,8 0 0,1 -8,-8 z" fill="#D05F2D"/>
<path class="hl" d="m 0.5,7.5 A 7.5,7.5 0 0,1 8,0.5 H 15 l 6,4 3,0 6,-4 H 213.49 M 213.49,0.5 M 208.99,19.3 l 3.68,-2.1 M 213.49,76.5 M 33.41,128.01 a 8.5,8.5 0 0,0 6.01041,2.48959 H 213.49 M 2.7,137.3 A 7.5,7.5 0 0,1 0.5,132 V 8" stroke="#de8f6c"/>
<g transform="translate(9.6,4.8)" opacity=".68"><rect class="ic" width="16" height="16" rx="4" ry="4"/><g transform="translate(8,8) scale(1.08) translate(-8,-8)"><path fill="#fff" d="m4.203,7.296 0,1.368 -0.92,0.677 -0.11,0.41 0.9,1.559 0.41,0.11 1.043,-0.457 1.187,0.683 0.127,1.134 0.3,0.3 1.8,0 0.3,-0.299 0.127,-1.138 1.185,-0.682 1.046,0.458 0.409,-0.11 0.9,-1.559 -0.11,-0.41 -0.92,-0.677 0,-1.366 0.92,-0.677 0.11,-0.41 -0.9,-1.559 -0.409,-0.109 -1.046,0.458 -1.185,-0.682 -0.127,-1.138 -0.3,-0.299 -1.8,0 -0.3,0.3 -0.126,1.135 -1.187,0.682 -1.043,-0.457 -0.41,0.11 -0.899,1.559 0.108,0.409z"/><circle class="ic" r="2.7" cx="8" cy="8"/></g></g>
<rect class="p" x="128.41" y="5" width="50.35" height="16" rx="4" ry="4"/>
</g>
<g transform="translate(301.85,52)">
<path d="m 0,0 H 209.21 v 25 v 5 c 0,10 -8,-8 -8,7.5 s 8,-2.5 8,7.5 v 6 v 5 c 0,10 -8,-8 -8,7.5 s 8,-2.5 8,7.5 v 5 H 0 V 20 c 0,-10 -8,8 -8,-7.5 s 8,2.5 8,-7.5 z" fill="#63426a" transform="translate(1,1)"/>
<path d="m 0,0 H 209.21 v 25 v 5 c 0,10 -8,-8 -8,7.5 s 8,-2.5 8,7.5 v 6 v 5 c 0,10 -8,-8 -8,7.5 s 8,-2.5 8,7.5 v 5 H 0 V 20 c 0,-10 -8,8 -8,-7.5 s 8,2.5 8,-7.5 z" fill="#7C5385"/>
<path class="hl" d="m 0.5,0.5 H 208.71 M 208.71,0.5 M 208.71,25.5 M 204.21,44.3 l 3.68,-2.1 M 208.71,51.5 M 204.21,70.3 l 3.68,-2.1 M 0.5,75.5 V 18.5 m -7.36,-0.5 q -1.52,-5.5 0,-11 m 7.36,1 V 0.5 H 1" stroke="#a387aa"/>
<rect class="e" x="41.08" y="5" width="80.99" height="16" rx="4" ry="4"/>
<path d="M108.62,10.6 h5.4 l-2.7,4 z" fill="#7C5385"/>
</g>
<g transform="translate(512.06,77)">
<path d="m 0,0 H 90.12 v 25 H 0 V 20 c 0,-10 -8,8 -8,-7.5 s 8,2.5 8,-7.5 z" fill="#8f244b" transform="translate(1,1)"/>
<path d="m 0,0 H 90.12 v 25 H 0 V 20 c 0,-10 -8,8 -8,-7.5 s 8,2.5 8,-7.5 z" fill="#B32D5E"/>
<path class="hl" d="m 0.5,0.5 H 89.62 M 89.62,0.5 M 0.5,24.5 V 18.5 m -7.36,-0.5 q -1.52,-5.5 0,-11 m 7.36,1 V 0.5 H 1" stroke="#ca6c8e"/>
<rect class="e" x="20.08" y="5" width="49.95" height="16" rx="4" ry="4"/>
</g>
<g transform="translate(512.06,103)">
<path d="m 0,0 H 54.24 v 25 H 0 V 20 c 0,-10 -8,8 -8,-7.5 s 8,2.5 8,-7.5 z" fill="#8f244b" transform="translate(1,1)"/>
<path d="m 0,0 H 54.24 v 25 H 0 V 20 c 0,-10 -8,8 -8,-7.5 s 8,2.5 8,-7.5 z" fill="#B32D5E"/>
<path class="hl" d="m 0.5,0.5 H 53.74 M 53.74,0.5 M 0.5,24.5 V 18.5 m -7.36,-0.5 q -1.52,-5.5 0,-11 m 7.36,1 V 0.5 H 1" stroke="#ca6c8e"/>
<rect class="e" x="20.08" y="5" width="14.07" height="16" rx="4" ry="4"/>
</g>
<g transform="translate(119.28,129)">
<path d="m 0,8 A 8,8 0 0,1 8,0 H 15 l 6,4 3,0 6,-4 H 263.31 v 25 v 5 c 0,10 -8,-8 -8,7.5 s 8,-2.5 8,7.5 v 5 H 29.5 l -6,4 -3,0 -6,-4 H 8 a 8,8 0 0,1 -8,-8 z" fill="#63426a" transform="translate(1,1)"/>
<path d="m 0,8 A 8,8 0 0,1 8,0 H 15 l 6,4 3,0 6,-4 H 263.31 v 25 v 5 c 0,10 -8,-8 -8,7.5 s 8,-2.5 8,7.5 v 5 H 29.5 l -6,4 -3,0 -6,-4 H 8 a 8,8 0 0,1 -8,-8 z" fill="#7C5385"/>
<path class="hl" d="m 0.5,7.5 A 7.5,7.5 0 0,1 8,0.5 H 15 l 6,4 3,0 6,-4 H 262.81 M 262.81,0.5 M 262.81,25.5 M 258.31,44.3 l 3.68,-2.1 M 2.7,47.3 A 7.5,7.5 0 0,1 0.5,42 V 8" stroke="#a387aa"/>
<rect class="e" x="41.08" y="5" width="134.01" height="16" rx="4" ry="4"/>
<path d="M161.64,10.6 h5.4 l-2.7,4 z" fill="#7C5385"/>
</g>
<g transform="translate(383.59,154)">
<path d="m 0,0 H 106.71 v 25 H 0 V 20 c 0,-10 -8,8 -8,-7.5 s 8,2.5 8,-7.5 z" fill="#a64c24" transform="translate(1,1)"/>
<path d="m 0,0 H 106.71 v 25 H 0 V 20 c 0,-10 -8,8 -8,-7.5 s 8,2.5 8,-7.5 z" fill="#D05F2D"/>
<path class="hl" d="m 0.5,0.5 H 106.21 M 106.21,0.5 M 0.5,24.5 V 18.5 m -7.36,-0.5 q -1.52,-5.5 0,-11 m 7.36,1 V 0.5 H 1" stroke="#de8f6c"/>
<rect class="e" x="35.39" y="5" width="66.32" height="16" rx="4" ry="4"/>
<path d="M88.26,10.6 h5.4 l-2.7,4 z" fill="#D05F2D"/>
</g>
</g>
<g id="backpack" stroke="#000" stroke-width="1.4" stroke-linejoin="round" stroke-linecap="round">
<path d="M1018,3 L1021,1 L1024,3 L1026,14 L1019,14 Z" fill="#2f8f5f"/>
<path d="M1020.6,26 L1020.6,9 L1026,3 L1026,26 Z" fill="#7C5385" stroke-width="1.2"/>
<path d="M983,9.6 L988.4,8 L985.6,5 L991.6,1.6 L995,1.2 L994.8,5 L997.2,4.2 L1001.2,3 L1001.4,25.4 L989.4,25.4 Z" fill="#D05F2D"/>
<path d="M1001.8,25.6 L1001.8,2.2 L1006.6,2.2 L1006.6,-2 L1012.8,-2 L1012.8,2.2 L1019.4,2.2 L1019.4,25.6 Z" fill="#4AA0D8"/>
<path d="M989.3,26.1 C984.5,30 982,35.5 984.6,40 C986.6,43.4 990,45.4 993.4,46.9 C995,48 996.5,48.9 998.5,49.4 L1026,50.5 L1026,26.1 Z" fill="#46B5A5" stroke-width="1.3"/>
<path d="M990.2,26.4 C984.5,30 982,35.5 984.6,40 C987.5,45 994,47.4 1001,47 C1009,46.5 1017,41 1026,33 L1026,29 C1017,37 1010,42.8 1002,43.6 C996,44.2 990.5,43 987.6,38.6 C985.2,35 987,30.5 991.6,26.6 Z" fill="#52C4B4" stroke-width="1.2"/>
<path d="M1015.4,42.3 L1026,43" fill="none" stroke-width="1.2"/>
</g>
<g id="zoom" fill="none" stroke="#000" stroke-width="1.4">
<circle cx="1024.8" cy="435.1" r="8.4"/>
<path d="M1013,435.1 H1016.4"/>
<circle cx="1025.4" cy="435.1" r="3.6" fill="#000" stroke="none"/>
<circle cx="1024" cy="466.5" r="10.6"/>
<path d="M1019.2,466.5 H1026 M1024,461.6 V471.4"/>
<circle cx="1024" cy="491.4" r="10.6"/>
<path d="M1017.8,491.4 H1026"/>
</g>
<g id="trash" fill="#1c1c1c">
<path d="M1003.2,528.8 V524.4 H1010 L1012.4,522.6 H1024 V528.8 Z"/>
<rect x="1005.4" y="531.4" width="20" height="22"/>
</g>
<rect x="-3" y="547" width="8" height="8" fill="#eef3f3" stroke="#6e7c80" stroke-width="1.6"/>

</g>
<g transform="translate(5,5.2) scale(0.72)">
<g transform="translate(0,0)">
<text x="10" y="17.5">when </text>
<text class="k" x="59.14" y="17.5">printscreen</text>
<text x="158.07" y="17.5">.Initialize</text>
<text x="10" y="42.5">do</text>
</g>
<g transform="translate(37.31,26)">
<text x="10" y="18.5">set </text>
<text class="k" x="43.64" y="18.5">SimpleSqlite1</text>
<text x="159.69" y="18.5">.</text>
<text class="k" x="173.77" y="18.5">DBName</text>
<text x="259.64" y="18.5"> to</text>
</g>
<g transform="translate(332.26,26)">
<text x="10" y="18.5">“</text>
<text class="k" x="25.08" y="18.5">/storage/emulated/0/Android/data/appinventor.ai_…</text>
<text x="370.2" y="18.5">”</text>
</g>
<g transform="translate(37.31,52)">
<text x="10" y="18.5">call </text>
<text class="k" x="46.08" y="18.5">SimpleSqlite1</text>
<text x="162.13" y="18.5">.OpenDatabase</text>
</g>
<g transform="translate(37.31,78)">
<text x="37" y="18.5">initialize local</text>
<text class="k" x="133.61" y="18.5">userid</text>
<text x="183.76" y="18.5">to</text>
<text x="10" y="94.5">in</text>
</g>
<g transform="translate(252.3,78)">
<text x="10" y="18.5">call </text>
<text class="k" x="46.08" y="18.5">Records</text>
<text x="127.07" y="18.5">.GetValue</text>
<text x="170.82" y="43.5">tag</text>
<text x="63.21" y="69.5">valueIfTagNotThere</text>
</g>
<g transform="translate(462.51,103)">
<text x="10" y="18.5">“</text>
<text class="k" x="25.08" y="18.5">userid</text>
<text x="75.03" y="18.5">”</text>
</g>
<g transform="translate(462.51,129)">
<text x="10" y="18.5">“</text>
<text x="39.16" y="18.5">”</text>
</g>
<g transform="translate(69.73,155)">
<text x="10" y="18.5">set </text>
<text class="k" x="43.64" y="18.5">Label1</text>
<text x="114.06" y="18.5">.</text>
<text class="k" x="128.13" y="18.5">Text</text>
<text x="181.41" y="18.5"> to</text>
</g>
<g transform="translate(286.44,155)">
<text x="37" y="18.5">join</text>
</g>
<g transform="translate(365.27,155)">
<text x="10" y="18.5">“</text>
<text class="k" x="25.08" y="18.5">Hello Userid </text>
<text x="119.04" y="18.5">”</text>
</g>
<g transform="translate(365.27,181)">
<text x="10" y="18.5">get</text>
<text class="k" x="40.39" y="18.5">userid</text>
</g>
<g transform="translate(365.27,207)">
<text x="10" y="18.5">“</text>
<text class="k" x="25.08" y="18.5">!</text>
<text x="39.16" y="18.5">”</text>
</g>
</g>
<g transform="translate(1.4,204.7) scale(0.72)">
<g transform="translate(0,0)">
<text x="10" y="18">when </text>
<text class="k" x="59.14" y="18">ListPicker1</text>
<text x="157.24" y="18">.BeforePicking</text>
<text x="10" y="43">do</text>
</g>
<g transform="translate(37.31,26)">
<text x="10" y="18">set </text>
<text class="k" x="43.64" y="18">ListPicker1</text>
<text x="141.74" y="18">.</text>
<text class="k" x="155.82" y="18">Elements</text>
<text x="243.33" y="18"> to</text>
</g>
<g transform="translate(315.95,26)">
<text class="k" x="10" y="18">BluetoothClient1</text>
<text x="144.01" y="18">.</text>
<text class="k" x="158.08" y="18">AddressesAndNames</text>
</g>
</g>
<g transform="translate(0,274.1) scale(0.72)">
<g transform="translate(0,0)">
<text x="10" y="17.7">when </text>
<text class="k" x="59.14" y="17.7">ListPicker1</text>
<text x="157.24" y="17.7">.AfterPicking</text>
<text x="10" y="42.7">do</text>
</g>
<g transform="translate(37.31,26)">
<text x="10" y="18">set </text>
<text class="k" x="43.64" y="18">ListPicker1</text>
<text x="141.74" y="18">.</text>
<text class="k" x="155.82" y="18">Selection</text>
<text x="242.53" y="18"> to</text>
</g>
<g transform="translate(315.15,26)">
<text x="10" y="18">call </text>
<text class="k" x="46.08" y="18">BluetoothClient1</text>
<text x="180.09" y="18">.Connect</text>
<text x="186.61" y="43">address</text>
</g>
<g transform="translate(572.94,51)">
<text class="k" x="10" y="18">ListPicker1</text>
<text x="108.1" y="18">.</text>
<text class="k" x="122.18" y="18">Selection</text>
</g>
<g transform="translate(37.31,77)">
<text x="37" y="18">if</text>
<text x="10" y="43">then</text>
<text x="10" y="135">else</text>
</g>
<g transform="translate(116.86,77)">
<text class="k" x="10" y="18">BluetoothClient1</text>
<text x="144.01" y="18">.</text>
<text class="k" x="158.08" y="18">IsConnected</text>
</g>
<g transform="translate(86.86,103)">
<text x="10" y="18">set </text>
<text class="k" x="43.64" y="18">ListPicker1</text>
<text x="141.74" y="18">.</text>
<text class="k" x="155.82" y="18">Visible</text>
<text x="225.13" y="18"> to</text>
</g>
<g transform="translate(347.3,103)">
<text class="k" x="10" y="18">true</text>
</g>
<g transform="translate(86.86,129)">
<text x="10" y="18">set </text>
<text class="k" x="43.64" y="18">Label2</text>
<text x="114.06" y="18">.</text>
<text class="k" x="128.13" y="18">Text</text>
<text x="181.41" y="18"> to</text>
</g>
<g transform="translate(303.57,129)">
<text x="10" y="18">“</text>
<text class="k" x="25.08" y="18">Connected</text>
<text x="106.03" y="18">”</text>
</g>
<g transform="translate(86.86,155)">
<text x="10" y="18">set </text>
<text class="k" x="43.64" y="18">Label2</text>
<text x="114.06" y="18">.</text>
<text class="k" x="128.13" y="18">TextColor</text>
<text x="216.45" y="18"> to</text>
</g>
<g transform="translate(86.86,195)">
<text x="10" y="18">set </text>
<text class="k" x="43.64" y="18">Label2</text>
<text x="114.06" y="18">.</text>
<text class="k" x="128.13" y="18">Text</text>
<text x="181.41" y="18"> to</text>
</g>
<g transform="translate(303.57,195)">
<text x="10" y="18">“</text>
<text class="k" x="25.08" y="18">Not Connected</text>
<text x="132.92" y="18">”</text>
</g>
<g transform="translate(86.86,221)">
<text x="10" y="18">set </text>
<text class="k" x="43.64" y="18">Label2</text>
<text x="114.06" y="18">.</text>
<text class="k" x="128.13" y="18">TextColor</text>
<text x="216.45" y="18"> to</text>
</g>
</g>
<g transform="translate(3.9,481.4) scale(0.72)">
<g transform="translate(0,0)">
<text x="10" y="18">when </text>
<text class="k" x="59.14" y="18">End</text>
<text x="111.61" y="18">.Click</text>
<text x="10" y="43">do</text>
</g>
<g transform="translate(37.31,26)">
<text x="10" y="18">call </text>
<text class="k" x="46.08" y="18">BluetoothClient1</text>
<text x="180.09" y="18">.Disconnect</text>
</g>
<g transform="translate(37.31,52)">
<text x="10" y="18">open another screen</text>
<text x="154.54" y="18">screenName</text>
</g>
<g transform="translate(294,52)">
<text class="k" x="10" y="18">thankyou</text>
</g>
</g>
<g transform="translate(584.3,3.3) scale(0.72)">
<g transform="translate(0,0)">
<text x="10" y="17.5">when </text>
<text class="k" x="59.14" y="17.5">print</text>
<text x="114.04" y="17.5">.Click</text>
<text x="10" y="42.5">do</text>
</g>
<g transform="translate(37.31,26)">
<text x="37" y="17.2">if</text>
<text x="10" y="42.2">then</text>
</g>
<g transform="translate(116.86,26)">
<text class="k" x="10" y="17.2">BluetoothClient1</text>
<text x="144.01" y="17.2">.</text>
<text class="k" x="158.08" y="17.2">IsConnected</text>
</g>
<g transform="translate(86.86,52)">
<text x="37" y="17.2">initialize local</text>
<text class="k" x="133.61" y="17.2">userid</text>
<text x="183.76" y="17.2">to</text>
<text x="10" y="93.2">in</text>
</g>
<g transform="translate(301.85,52)">
<text x="10" y="17.2">call </text>
<text class="k" x="46.08" y="17.2">Records</text>
<text x="127.07" y="17.2">.GetValue</text>
<text x="170.82" y="42.2">tag</text>
<text x="63.21" y="68.2">valueIfTagNotThere</text>
</g>
<g transform="translate(512.06,77)">
<text x="10" y="17.2">“</text>
<text class="k" x="25.08" y="17.2">userid</text>
<text x="75.03" y="17.2">”</text>
</g>
<g transform="translate(512.06,103)">
<text x="10" y="17.2">“</text>
<text x="39.16" y="17.2">”</text>
</g>
<g transform="translate(119.28,129)">
<text x="10" y="17.2">call </text>
<text class="k" x="46.08" y="17.2">BluetoothClient1</text>
<text x="180.09" y="17.2">.SendText</text>
<text x="221.67" y="42.2">text</text>
</g>
<g transform="translate(383.59,154)">
<text x="10" y="17.2">get</text>
<text class="k" x="40.39" y="17.2">userid</text>
</g>
</g>
</svg>
</body></html>
